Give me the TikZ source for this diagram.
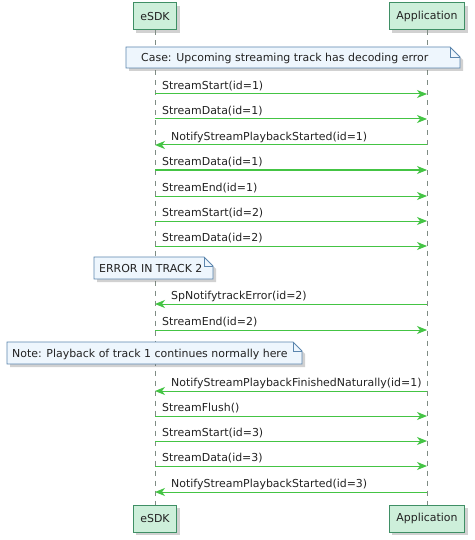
\documentclass[tikz,border=0pt]{standalone}
\usepackage{fontspec}
\setmainfont{DejaVu Sans}
\usetikzlibrary{arrows.meta,shadows}

\definecolor{actorfill}{HTML}{CDEFDA}
\definecolor{actorline}{HTML}{3F8F65}
\definecolor{msggreen}{HTML}{44C444}
\definecolor{lifegray}{HTML}{7F8C84}
\definecolor{notefill}{HTML}{EEF6FD}
\definecolor{noteline}{HTML}{5C86AE}
\definecolor{textgray}{HTML}{222222}

\begin{document}
\begin{tikzpicture}[x=1pt,y=-1pt,
    font=\fontsize{10.95}{13}\selectfont,
    shade/.style={drop shadow={shadow xshift=3pt,shadow yshift=-3pt,opacity=0.3,fill=black!60}},
    actor/.style={draw=actorline,fill=actorfill,line width=1pt,inner xsep=7pt,
      minimum height=27pt,text=textgray,shade},
    life/.style={draw=lifegray,line width=0.8pt,dash pattern=on 5pt off 5pt},
    msg/.style={draw=msggreen,line width=1pt,-{Stealth[length=10pt,width=8pt,inset=3pt]}},
    lbl/.style={anchor=base west,inner sep=0pt,text=textgray},
    note/.style={draw=noteline,fill=notefill,line width=0.8pt,shade}]
  \useasboundingbox (0,0) rectangle (474,540);

  % participants
  \node[actor] (sdkTop) at (155,16.5) {eSDK};
  \node[actor] (appTop) at (427,16.5) {Application};
  \node[actor] (sdkBot) at (155,518.5) {eSDK};
  \node[actor] (appBot) at (427,518.5) {Application};

  % lifelines
  \draw[life] (sdkTop.south) -- (sdkBot.north);
  \draw[life] (appTop.south) -- (appBot.north);

  % notes
  \path[note] (126,47) -- (450,47) -- (460,57) -- (460,68) -- (126,68) -- cycle;
  \draw[noteline,line width=0.8pt] (450,47) -- (450,57) -- (460,57);
  \node[lbl] (caseNote) at (141,61.5) {Case: Upcoming streaming track has decoding error};

  \path[note] (94,257) -- (204,257) -- (213,266) -- (213,279) -- (94,279) -- cycle;
  \draw[noteline,line width=0.8pt] (204,257) -- (204,266) -- (213,266);
  \node[lbl] (errNote) at (99,272) {ERROR IN TRACK 2};

  \path[note] (7,342) -- (293,342) -- (302,351) -- (302,364) -- (7,364) -- cycle;
  \draw[noteline,line width=0.8pt] (293,342) -- (293,351) -- (302,351);
  \node[lbl] (playNote) at (12,357) {Note: Playback of track 1 continues normally here};

  % eSDK -> Application
  \foreach \y/\txt in {94/StreamStart(id=1), 119/StreamData(id=1), 170/StreamData(id=1),
      196/StreamEnd(id=1), 221/StreamStart(id=2), 246/StreamData(id=2),
      330/StreamEnd(id=2), 416/StreamFlush(), 441/StreamStart(id=3), 466/StreamData(id=3)} {
    \coordinate (s\y) at (155,\y);
    \coordinate (a\y) at (427,\y);
    \draw[msg] (s\y) -- (a\y);
    \node[lbl] (m\y) at (162,\y-4.5) {\txt};
  }

  % Application -> eSDK
  \foreach \y/\txt in {145/NotifyStreamPlaybackStarted(id=1), 304/SpNotifytrackError(id=2),
      391/NotifyStreamPlaybackFinishedNaturally(id=1), 492/NotifyStreamPlaybackStarted(id=3)} {
    \coordinate (s\y) at (155,\y);
    \coordinate (a\y) at (427,\y);
    \draw[msg] (a\y) -- (s\y);
    \node[lbl] (m\y) at (171,\y-4.5) {\txt};
  }
\end{tikzpicture}
\end{document}
